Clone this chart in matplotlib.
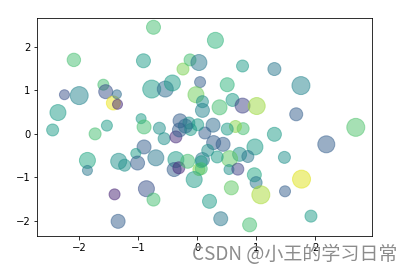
import matplotlib
matplotlib.use("Agg")
import matplotlib.pyplot as plt

# bubble centres
x = [-2.09, -2.25, -2.00, -2.36, -2.45, -1.59, -1.55, -1.42, -1.36, -1.35,
     -1.53, -1.73, -1.86, -1.86, -1.40, -1.34, -1.33, -1.23, -0.74, -0.91,
     -0.77, -0.54, -0.42, -0.24, -0.12, 0.03, 0.05, -0.02, 0.09, 0.09,
     -0.95, -0.90, -0.64, -0.29, -0.14, 0.31, 0.77, 1.31, 0.51, 0.60,
     0.38, 0.77, 1.01, 1.76, 1.68, 2.69, 2.19, 1.48, 1.77, 1.49,
     1.93, 1.31, 0.98, 0.72, 0.86, 0.55, 0.54, 0.69, 0.97, 1.00,
     0.58, 1.08, 0.21, 0.40, 0.89, 0.44, 0.28, 0.34, 0.78, 0.65,
     0.51, 0.27, -0.56, -0.36, -0.30, -0.11, -0.90, -1.04, -1.01, -0.70,
     -0.36, -0.39, -0.31, -0.16, 0.03, -0.05, -0.86, -0.74, 0.09, 0.13,
     0.07, 0.07, 0.01, -0.20, 0.18]
y = [1.70, 0.90, 0.88, 0.49, 0.09, 1.13, 0.97, 0.71, 0.91, 0.68,
     0.19, 0.00, -0.61, -0.84, -1.39, -2.01, -0.63, -0.72, 2.45, 1.68,
     1.03, 1.03, 1.17, 1.49, 1.70, 1.64, 1.19, 0.90, 0.74, 0.54,
     0.35, 0.16, 0.13, 0.30, 0.25, 2.15, 1.56, 1.49, 1.13, 0.78,
     0.61, 0.65, 0.64, 1.11, 0.45, 0.15, -0.24, -0.54, -1.04, -1.32,
     -1.89, -0.01, -0.30, -0.47, -0.52, -0.57, -0.82, -0.81, -0.94, -1.12,
     -1.24, -1.40, -1.55, -1.95, -2.09, -0.24, -0.20, -0.53, 0.12, 0.17,
     0.11, 0.20, -0.11, -0.07, 0.09, 0.10, -0.30, -0.45, -0.67, -0.55,
     -0.59, -0.82, -0.78, -0.63, -0.82, -1.05, -1.26, -1.51, -0.59, 0.02,
     -0.64, -0.80, 0.21, 0.18, -0.38]
colors = [0.70, 0.25, 0.45, 0.55, 0.55, 0.70, 0.25, 0.97, 0.35, 0.12,
          0.55, 0.70, 0.60, 0.40, 0.10, 0.30, 0.50, 0.50, 0.70, 0.55,
          0.55, 0.35, 0.55, 0.80, 0.70, 0.40, 0.30, 0.78, 0.50, 0.45,
          0.55, 0.70, 0.50, 0.30, 0.50, 0.65, 0.55, 0.40, 0.65, 0.55,
          0.70, 0.20, 0.85, 0.45, 0.30, 0.72, 0.30, 0.50, 0.95, 0.30,
          0.55, 0.55, 0.55, 0.50, 0.40, 0.75, 0.50, 0.20, 0.60, 0.40,
          0.75, 0.87, 0.55, 0.40, 0.70, 0.30, 0.30, 0.55, 0.70, 0.82,
          0.55, 0.35, 0.50, 0.12, 0.30, 0.55, 0.30, 0.55, 0.30, 0.40,
          0.55, 0.30, 0.12, 0.70, 0.82, 0.55, 0.25, 0.70, 0.40, 0.30,
          0.55, 0.70, 0.55, 0.35, 0.50]
sizes = [180, 100, 324, 256, 144, 121, 196, 196, 81, 100,
         121, 144, 256, 100, 121, 196, 256, 144, 196, 196,
         324, 256, 256, 144, 144, 256, 121, 256, 144, 196,
         100, 196, 144, 196, 144, 256, 144, 169, 196, 169,
         225, 225, 289, 324, 169, 324, 289, 144, 324, 121,
         144, 196, 256, 196, 144, 256, 100, 144, 196, 144,
         196, 324, 196, 196, 196, 196, 196, 144, 144, 144,
         144, 196, 144, 144, 196, 144, 196, 100, 196, 256,
         256, 196, 144, 196, 144, 256, 256, 169, 196, 144,
         144, 144, 144, 196, 144]

fig = plt.figure(figsize=(416 / 72, 273 / 72), dpi=72)
ax = fig.add_axes([37.3 / 416, 1 - 235.7 / 273, 335 / 416, 218 / 273])
ax.scatter(x, y, s=sizes, c=colors, cmap="viridis", vmin=0, vmax=1, alpha=0.5)
ax.set_xlim(-2.71, 2.97)
ax.set_ylim(-2.34, 2.67)
ax.set_xticks([-2, -1, 0, 1, 2])
ax.set_yticks([-2, -1, 0, 1, 2])

# watermark, drawn over the tick labels as in the source image
fig.text(192 / 416, 1 - 254 / 273, "CSDN @小王的学习日常", fontsize=19,
         color="#8c8c8c", va="center", ha="left",
         family=["Noto Sans CJK SC", "DejaVu Sans"])

fig.savefig("out.png", dpi=72)
